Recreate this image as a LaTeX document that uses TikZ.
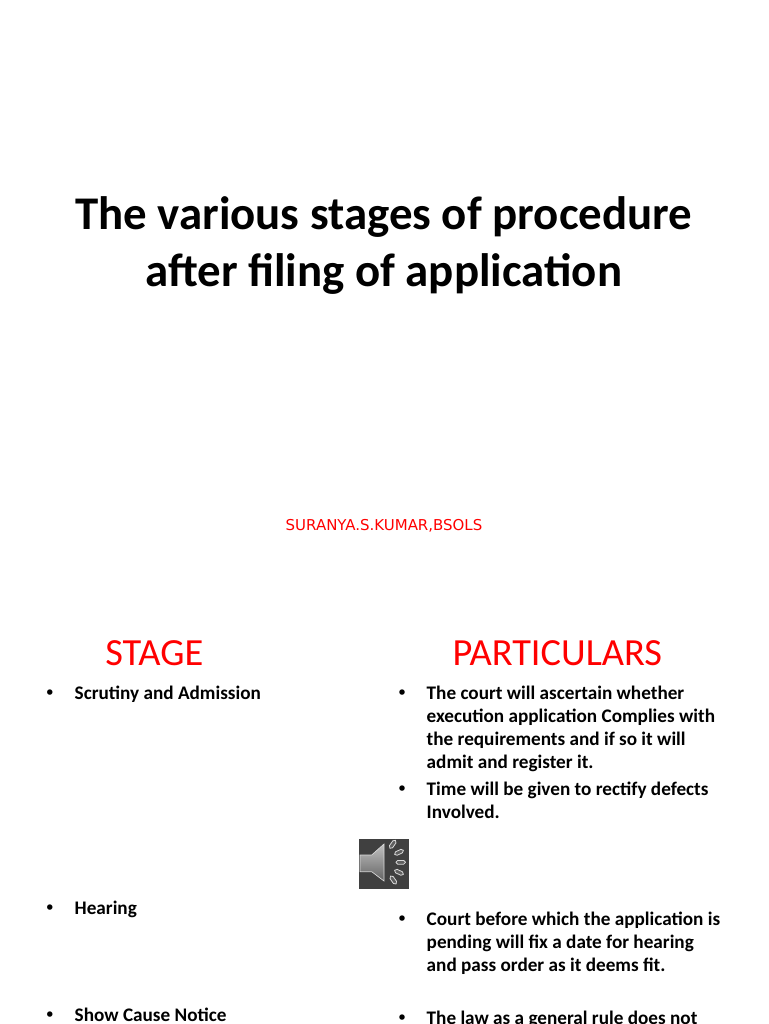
\documentclass[tikz,border=0pt]{standalone}
\usepackage{fontspec}
\setmainfont{Carlito}
\newfontfamily\dejavu{DejaVu Sans}
\newcommand{\nolig}{\kern0pt }
\definecolor{iconbg}{HTML}{404040}
\definecolor{iconfill}{HTML}{A6A6A6}
\tikzset{
  px/.style={x=0.75pt,y=-0.75pt},
  txt/.style={inner sep=0pt,outer sep=0pt,anchor=base west,align=left},
  body/.style={txt,font=\fontsize{14.4pt}{17.2pt}\selectfont\bfseries},
  bul/.style={inner sep=0pt,anchor=base,font=\dejavu\fontsize{14pt}{14pt}\selectfont},
  head/.style={inner sep=0pt,anchor=base,text=red,font=\fontsize{28.8pt}{28.8pt}\selectfont},
  slot/.style={draw=white!85!black,line width=0.6pt,fill=iconbg!70!iconfill,rounded corners=1.4pt},
}
\begin{document}
\begin{tikzpicture}[px]
\useasboundingbox (0,0) rectangle (768,1024);
\node[inner sep=0pt,anchor=base,align=center,font=\fontsize{35.15pt}{42.75pt}\selectfont\bfseries] (title) at (383.7,286.9) {T\nolig he various stages of procedure\\after filing of application};
\node[inner sep=0pt,anchor=base,text=red,font=\dejavu\fontsize{11.23pt}{11pt}\selectfont] (author) at (384,530.8) {SURANYA.S.KUMAR,BSOLS};
\node[head] (stage) at (154.3,665.2) {STAGE};
\node[head] (part) at (557.3,665.2) {PARTICULARS};
\node[bul] (b1) at (50,699.2) {•};
\node[body] (s1) at (74.7,699.9) {Scrutiny and Admission};
\node[bul] (b2) at (50,914.2) {•};
\node[body] (s2) at (74.7,914.9) {Hearing};
\node[bul] (b3) at (50,1021.2) {•};
\node[body] (s3) at (74.7,1021.9) {Show Cause Notice};
\node[bul] (b4) at (402,699.2) {•};
\node[body] (p1) at (426.7,699.9) {T\nolig he court will ascertain whether};
\node[body] (p1b) at (426.7,722.9) {execution application Complies with};
\node[body] (p1c) at (426.7,745.9) {the requirements and if so it will};
\node[body] (p1d) at (426.7,768.9) {admit and register it.};
\node[bul] (b5) at (402,795.2) {•};
\node[body] (p2) at (426.7,795.9) {Time will be given to rectify defects};
\node[body] (p2b) at (426.7,818.9) {Involved.};
\node[bul] (b6) at (402,925.2) {•};
\node[body] (p3) at (426.7,925.9) {Court before which the application is};
\node[body] (p3b) at (426.7,948.9) {pending will fix a date for hearing};
\node[body] (p3c) at (426.7,971.9) {and pass order as it deems fit.};
\node[bul] (b7) at (402,1024.2) {•};
\node[body] (p4) at (426.7,1024.9) {T\nolig he law as a general rule does not};
% speaker icon
\fill[iconbg] (359,839) rectangle (409,889);
\shade[top color=iconfill!70!white,bottom color=iconfill!60!black,draw=white!85!black,line width=0.5pt] (360,855) -- (371.7,855) -- (384,844) -- (384,881) -- (371.7,871.7) -- (360,871.7) -- cycle;
\foreach \ang/\cx/\cy in {55/392.7/844.3,25/399/852.3,0/400.7/862.3,-25/399/872.3,-55/393.3/880}{
  \path[slot,shift={(\cx,\cy)},rotate=\ang] (-4.8,-1.9) rectangle (4.8,1.9);
}
\end{tikzpicture}
\end{document}
